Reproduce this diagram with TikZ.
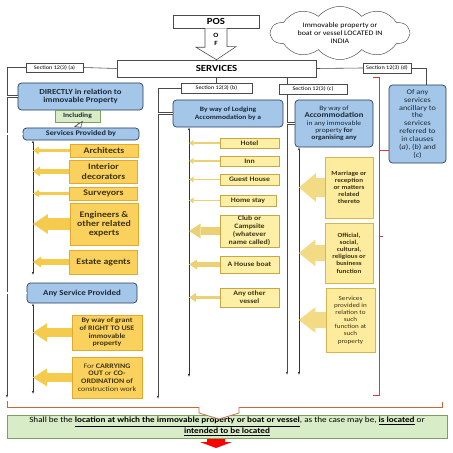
\documentclass[tikz,border=0pt]{standalone}
\usepackage{fontspec}
\setmainfont{Carlito}[FakeStretch=1.15]
\usepackage{tikz}
\usetikzlibrary{arrows.meta, shapes.symbols, calc}
\definecolor{lineGray}{HTML}{4A4A4A}
\definecolor{boxBlue}{HTML}{A4C6E8}
\definecolor{navyEdge}{HTML}{27405E}
\definecolor{navyText}{HTML}{1B2A3A}
\definecolor{goldFill}{HTML}{FAD15C}
\definecolor{goldEdge}{HTML}{E3A92F}
\definecolor{goldArrow}{HTML}{F5CB4E}
\definecolor{paleFill}{HTML}{FDF0A6}
\definecolor{paleEdge}{HTML}{C9A544}
\definecolor{paleArrow}{HTML}{EBD173}
\definecolor{creamFill}{HTML}{FDEC9E}
\definecolor{creamEdge}{HTML}{D8B44E}
\definecolor{creamArrow}{HTML}{F3DA84}
\definecolor{inkBrown}{HTML}{3D3415}
\definecolor{greenFill}{HTML}{D9ECC8}
\definecolor{greenEdge}{HTML}{7E9F62}
\definecolor{braceRed}{HTML}{D9363E}
\definecolor{braceOrange}{HTML}{C8643C}
\tikzset{
  topbox/.style={draw=lineGray, fill=white, line width=0.5pt, inner sep=1pt,
                 font=\fontsize{8}{9}\selectfont\bfseries},
  seclabel/.style={draw=lineGray, fill=white, line width=0.4pt, inner sep=0.5pt,
                   font=\fontsize{4.6}{5}\selectfont},
  bluebox/.style={draw=navyEdge, fill=boxBlue, rounded corners=3pt, line width=0.6pt,
                  align=center, inner sep=1pt, text=navyText},
  inclbox/.style={draw=greenEdge, fill=greenFill, inner sep=0.5pt,
                  font=\fontsize{5.6}{6}\selectfont\bfseries, text=navyText},
  goldbox/.style={draw=goldEdge, fill=goldFill, line width=0.6pt, align=center,
                  inner sep=0.5pt, text=inkBrown, font=\fontsize{7.3}{7.8}\selectfont\bfseries},
  palebox/.style={draw=paleEdge, fill=paleFill, line width=0.6pt, align=center,
                  inner sep=0.5pt, text=inkBrown, font=\fontsize{5.8}{6.8}\selectfont\bfseries},
  creambox/.style={draw=creamEdge, fill=creamFill, line width=0.6pt, align=center,
                   inner sep=0.5pt, text=inkBrown, font=\fontsize{5.3}{6.1}\selectfont},
  greenbox/.style={draw=greenEdge, fill=greenFill, line width=0.8pt, align=center,
                   inner sep=1pt, text=black},
  conn/.style={draw=lineGray, line width=0.5pt},
  downarr/.style={conn, -{Latex[length=2.5pt,width=2pt]}},
  innerline/.style={draw=black!80, line width=0.5pt,
                    {Latex[length=2.2pt,width=1.8pt]}-{Latex[length=2.5pt,width=2pt]}},
  stub/.style={draw=lineGray, line width=0.4pt, double=white, double distance=1.6pt},
  goldarr/.style n args={3}{draw=goldArrow, line width=#1,
                            -{Triangle[width=#2,length=#3,line width=0pt]}},
  palearr/.style n args={3}{draw=paleArrow, line width=#1,
                            -{Triangle[width=#2,length=#3,line width=0pt]}},
  creamarr/.style n args={3}{draw=creamArrow, line width=#1,
                             -{Triangle[width=#2,length=#3,line width=0pt]}},
  redline/.style={draw=braceRed, line width=0.7pt},
  brace/.style={draw=braceOrange, line width=0.6pt}
}

\begin{document}
\begin{tikzpicture}[x=0.03cm, y=-0.03cm]
  \fill[white] (0,0) rectangle (453,453);
  \useasboundingbox (0,0) rectangle (453,453);

  % top
  \node[topbox, minimum width=2.58cm, minimum height=0.39cm] (pos) at (216,21.5) {POS};
  \node[topbox, minimum width=5.97cm, minimum height=0.51cm] (serv) at (216.5,68.5) {SERVICES};
  \node[cloud, cloud puffs=10, cloud puff arc=100, aspect=3.3, draw=lineGray, fill=white,
        inner sep=1pt, minimum width=4.14cm, minimum height=1.2cm, align=center,
        font=\fontsize{5.9}{6.5}\selectfont] (cloud) at (340,33)
        {Immovable property or\\ boat or vessel LOCATED IN\\ INDIA};

  \draw[conn, fill=white] ([xshift=-0.33cm]pos.south) -- ++(0,19) -- ++(-9,0)
    -- (serv.north) -- ++(19.5,-13) -- ++(-9,0) -- ([xshift=0.33cm]pos.south);
  \node[font=\fontsize{5.5}{5.5}\selectfont\bfseries] (ofO) at (216,35) {O};
  \node[font=\fontsize{5.5}{5.5}\selectfont\bfseries] (ofF) at (216,43) {F};

  % sections
  \node[seclabel, minimum width=1.71cm, minimum height=0.27cm] (secA) at (54.5,67.5) {Section 12(3) (a)};
  \node[seclabel, minimum width=2.13cm, minimum height=0.3cm] (secB) at (216.5,88) {Section 12(3) (b)};
  \node[seclabel, minimum width=2.04cm, minimum height=0.3cm] (secC) at (313,89) {Section 12(3) (c)};
  \node[seclabel, minimum width=1.44cm, minimum height=0.3cm] (secD) at (387,68) {Section 12(3) (d)};

  \coordinate (outA) at (7,398);
  \coordinate (outB) at (158,399);
  \coordinate (outC) at (287,375);
  \coordinate (inA1) at (33,275);
  \coordinate (inA2) at (33,394);
  \coordinate (inB) at (189,377);
  \coordinate (inC) at (299,375);

  % blue boxes
  \node[bluebox, minimum width=3.75cm, minimum height=0.81cm,
        font=\fontsize{6.5}{7.4}\selectfont\bfseries] (direct) at (80.5,96.5)
        {DIRECTLY in relation to\\ immovable Property};
  \node[inclbox, minimum width=1.35cm, minimum height=0.36cm] (incl) at (77.5,116) {Including};
  \node[bluebox, minimum width=3.48cm, minimum height=0.36cm,
        font=\fontsize{6.1}{6.5}\selectfont\bfseries] (provby) at (81,134) {Services Provided by};
  \node[bluebox, minimum width=3.3cm, minimum height=0.6cm,
        font=\fontsize{6.6}{7}\selectfont\bfseries] (anyserv) at (82,293) {Any Service Provided};
  \node[bluebox, minimum width=3.3cm, minimum height=0.81cm,
        font=\fontsize{5.6}{7.2}\selectfont\bfseries] (lodging) at (228,113.5)
        {By way of Lodging\\ Accommodation by a};
  \node[bluebox, minimum width=2.34cm, minimum height=1.41cm,
        font=\fontsize{5.6}{6.2}\selectfont] (accom) at (334,123.5)
        {By way of\\ {\fontsize{6.4}{6.2}\selectfont\bfseries Accommodation}\\ in any immovable\\
         property \textbf{for}\\ \textbf{organising any}};
  \node[bluebox, minimum width=1.71cm, minimum height=2.34cm,
        font=\fontsize{6.1}{6.8}\selectfont] (ancil) at (417.5,124)
        {Of any\\ services\\ ancillary to\\ the\\ services\\ referred to\\ in clauses\\
         (\textit{a}), (\textit{b}) and\\ (\textit{c})};

  % section lines
  \draw[conn] (serv.west) -- (secA.east);
  \draw[downarr] (secA.west) -| (outA);
  \draw[conn] (serv.south) -- (secB.north);
  \draw[downarr] (secB.west) -| (outB);
  \draw[conn] (serv.south -| outC) -- (secC.north -| outC);
  \draw[downarr] (secC.south -| outC) -- (outC);
  \draw[conn] (serv.east) -- (secD.west);
  \draw[conn] (secD.east) -| ([xshift=0.25cm]ancil.north);

  \draw[stub] (direct.west -| outA) -- (direct.west);
  \draw[stub] (provby.west -| outA) -- (provby.west);
  \draw[stub] (anyserv.west -| outA) -- (anyserv.west);
  \draw[stub] (lodging.west -| outB) -- (lodging.west);
  \draw[stub] (accom.west -| outC) -- (accom.west);
  \draw[conn, -{Triangle[open,width=9pt,length=4pt]}] (incl.south) -- (provby.north);

  \draw[innerline] (provby.south -| inA1) -- (inA1);
  \draw[innerline] (anyserv.south -| inA2) -- (inA2);
  \draw[innerline] (lodging.south -| inB) -- (inB);
  \draw[innerline] (accom.south -| inC) -- (inC);

  % clause (a)
  \node[goldbox, minimum width=2.04cm, minimum height=0.39cm] (arch) at (104,150.5) {Architects};
  \node[goldbox, minimum width=2.04cm, minimum height=0.69cm] (interior) at (103.5,171.5) {Interior\\ decorators};
  \node[goldbox, minimum width=2.04cm, minimum height=0.39cm] (survey) at (103.5,193.5) {Surveyors};
  \node[goldbox, minimum width=2.04cm, minimum height=1.26cm] (engin) at (104,224) {Engineers \&\\ other related\\ experts};
  \node[goldbox, minimum width=2.04cm, minimum height=0.72cm] (estate) at (103.5,262) {Estate agents};
  \node[goldbox, minimum width=2.1cm, minimum height=1.05cm,
        font=\fontsize{5.9}{6.5}\selectfont\bfseries] (grant) at (107,332.5)
        {By way of grant\\ of RIGHT TO USE\\ immovable\\ property};
  \node[goldbox, minimum width=2.1cm, minimum height=1.23cm,
        font=\fontsize{5.9}{6.6}\selectfont] (carry) at (107,377.5)
        {For \textbf{CARRYING}\\ \textbf{OUT} or \textbf{CO-}\\ \textbf{ORDINATION of}\\ construction work};

  \draw[goldarr={3.4pt}{6.8pt}{5pt}] (arch.west) -- (arch.west -| inA1);
  \draw[goldarr={4.3pt}{8.5pt}{6pt}] (interior.west) -- (interior.west -| inA1);
  \draw[goldarr={2.6pt}{6pt}{5pt}] (survey.west) -- (survey.west -| inA1);
  \draw[goldarr={9.4pt}{17pt}{12.8pt}] (engin.west) -- (engin.west -| inA1);
  \draw[goldarr={4.3pt}{9.4pt}{7pt}] (estate.west) -- (estate.west -| inA1);
  \draw[goldarr={7.7pt}{16pt}{12pt}] (grant.west) -- (grant.west -| inA2);
  \draw[goldarr={7.7pt}{15.3pt}{12pt}] (carry.west) -- (carry.west -| inA2);

  % clause (b)
  \node[palebox, minimum width=1.77cm, minimum height=0.3cm] (hotel) at (249.5,143) {Hotel};
  \node[palebox, minimum width=1.77cm, minimum height=0.3cm] (inn) at (249.5,161) {Inn};
  \node[palebox, minimum width=1.77cm, minimum height=0.33cm] (guest) at (249.5,179.5) {Guest House};
  \node[palebox, minimum width=1.68cm, minimum height=0.33cm] (homestay) at (248,200.5) {Home stay};
  \node[palebox, minimum width=1.77cm, minimum height=0.96cm] (club) at (249.5,231)
        {Club or\\ Campsite\\ (whatever\\ name called)};
  \node[palebox, minimum width=1.77cm, minimum height=0.51cm] (boat) at (249.5,264.5) {A House boat};
  \node[palebox, minimum width=1.77cm, minimum height=0.57cm] (vessel) at (249.5,297.5) {Any other\\ vessel};

  \draw[palearr={1.7pt}{5pt}{4pt}] (hotel.west) -- (hotel.west -| inB);
  \draw[palearr={1.7pt}{5pt}{4pt}] (inn.west) -- (inn.west -| inB);
  \draw[palearr={1.7pt}{5pt}{4pt}] (guest.west) -- (guest.west -| inB);
  \draw[palearr={1.7pt}{5pt}{4pt}] (homestay.west) -- (homestay.west -| inB);
  \draw[palearr={6pt}{12.8pt}{10pt}] (club.west) -- (club.west -| inB);
  \draw[palearr={4.3pt}{8.5pt}{7pt}] (boat.west) -- (boat.west -| inB);
  \draw[palearr={3.4pt}{7.7pt}{6pt}] (vessel.west) -- (vessel.west -| inB);

  % clause (c)
  \node[creambox, minimum width=1.44cm, minimum height=1.83cm,
        font=\fontsize{5.3}{6.1}\selectfont\bfseries] (marriage) at (349,187.5)
        {Marriage or\\ reception\\ or matters\\ related\\ thereto};
  \node[creambox, minimum width=1.44cm, minimum height=1.8cm,
        font=\fontsize{5.3}{6.1}\selectfont\bfseries] (official) at (349,253)
        {Official,\\ social,\\ cultural,\\ religious or\\ business\\ function};
  \node[creambox, minimum width=1.47cm, minimum height=1.92cm] (svcprop) at (350.5,320)
        {Services\\ provided in\\ relation to\\ such\\ function at\\ such\\ property};

  \draw[creamarr={16pt}{24.7pt}{14.5pt}] (marriage.west) -- (marriage.west -| inC);
  \draw[creamarr={14.5pt}{23pt}{14pt}] (official.west) -- (official.west -| inC);
  \draw[creamarr={13.6pt}{22pt}{14pt}] (svcprop.west) -- (svcprop.west -| inC);

  % clause (d) bracket
  \coordinate (brTop) at (379,77);
  \coordinate (brBot) at (379,395);
  \coordinate (brMid) at (379,236);
  \coordinate (brLink) at (379,150);
  \draw[redline] ([xshift=-0.18cm]brTop) -- (brTop) -- (brBot) -- ([xshift=-0.18cm]brBot);
  \draw[redline] (brMid) -- ++(4,0);
  \draw[redline] (brLink) -- (brLink -| ancil.west);

  % bottom
  \node[greenbox, minimum width=13.2cm, minimum height=0.69cm,
        font=\fontsize{6.8}{7.4}\selectfont] (shallbe) at (227,426.5)
        {Shall be the \underline{\textbf{location at which the immovable property or boat or vessel}},
         as the case may be, \underline{\textbf{is located}} or\\
         \underline{\textbf{intended to be located}}};

  \coordinate (bL) at (7,407);
  \coordinate (bR) at (442,407);
  \draw[brace] (7,401) -- (bL) -- (bR) -- (442,402);
  \draw[brace, fill=white] (199,407) -- (199,413) -- (219,419) -- (239,413) -- (239,407);
  \fill[red] (207,439) -- (225,439) -- (225,442) -- (232,442) -- (216,448)
    -- (200,442) -- (207,442) -- cycle;
\end{tikzpicture}
\end{document}
